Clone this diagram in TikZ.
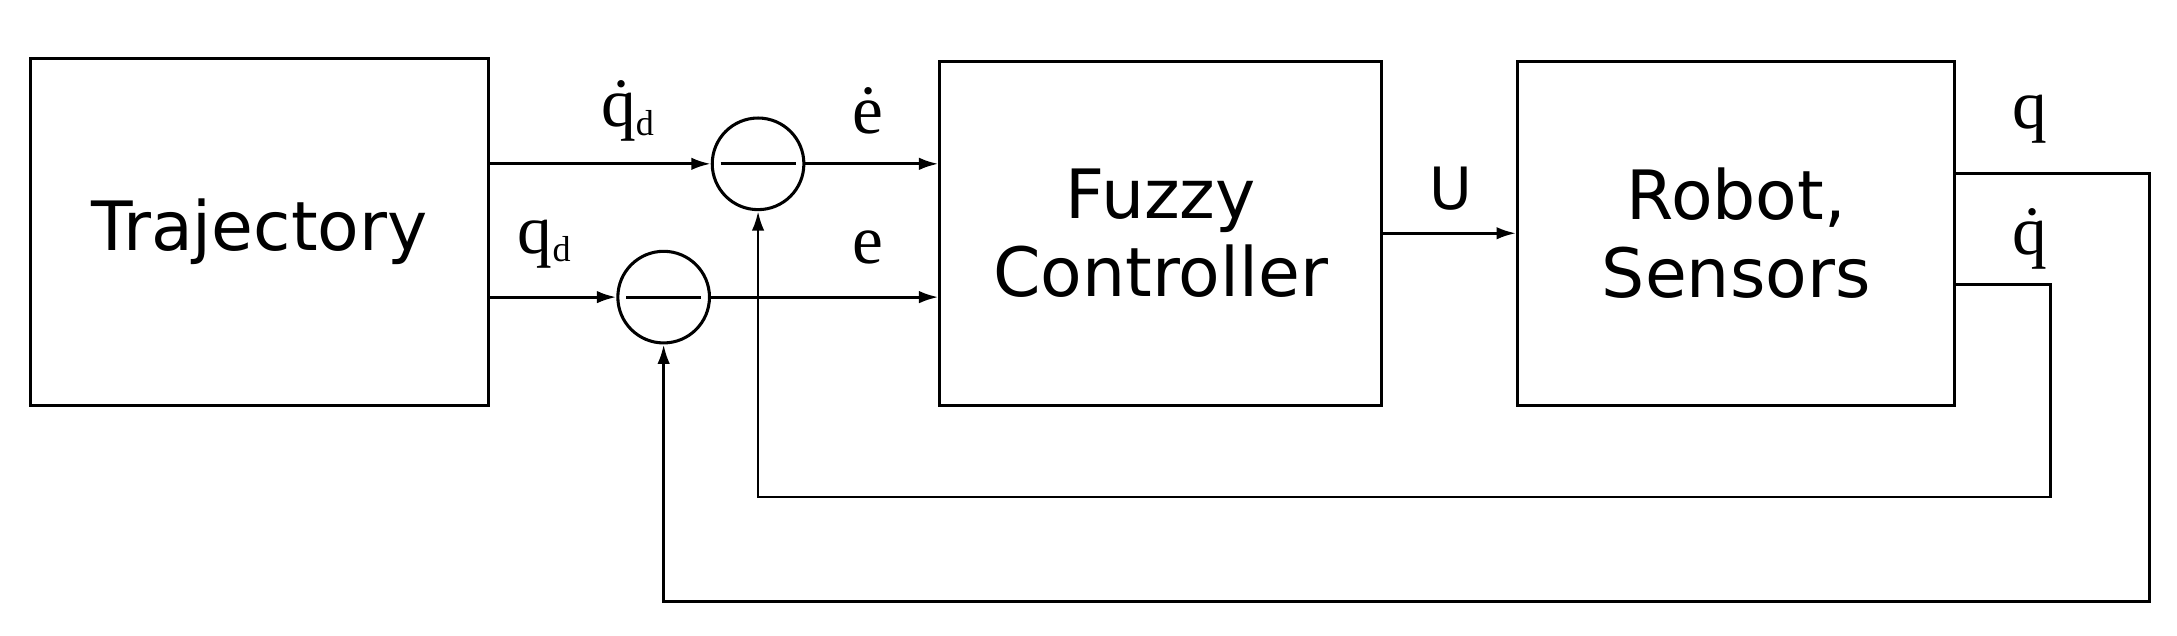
\documentclass[tikz,border=0pt]{standalone}
\usepackage{fontspec}
\setmainfont{DejaVu Sans}
\newfontfamily\serf{Liberation Serif}
\usetikzlibrary{arrows.meta}
\newcommand{\sbd}{\raisebox{-6pt}{\fontsize{26}{28}\selectfont d}}
\begin{document}
\begin{tikzpicture}[x=1pt,y=-1pt,
  blk/.style={draw,line width=2.2pt,inner sep=0pt,font=\fontsize{49}{56}\selectfont,align=center},
  sum/.style={draw,circle,line width=2.2pt,minimum size=66pt,inner sep=0pt},
  arr/.style={line width=2pt,-{Latex[length=14pt,width=9pt]}},
  ln/.style={line width=2pt},
  lab/.style={font=\serf\fontsize{50}{54}\selectfont}]
\useasboundingbox (0,0) rectangle (1568,458);
\node[blk,minimum width=330pt,minimum height=250pt] (tr) at (187,167) {Trajectory};
\node[blk,minimum width=318pt,minimum height=248pt] (fc) at (836,168) {Fuzzy\\Controller};
\node[blk,minimum width=315pt,minimum height=248pt] (rb) at (1250.5,168) {Robot,\\Sensors};
\node[sum] (s1) at (546,118) {};
\node[sum] (s2) at (478,214) {};
\draw[ln] ([xshift=-27pt]s1.center) -- ([xshift=27pt]s1.center);
\draw[ln] ([xshift=-27pt]s2.center) -- ([xshift=27pt]s2.center);
\draw[arr] (tr.east|-s1.west) -- (s1.west);
\draw[arr] (tr.east|-s2.west) -- (s2.west);
\draw[arr] (s1.east) -- (s1.east-|fc.west);
\draw[arr] (s2.east) -- (s2.east-|fc.west);
\draw[arr] (fc.east|-0,168) -- (rb.west|-0,168);
\coordinate (a1) at (1548,125);
\coordinate (a2) at (1548,433);
\coordinate (b1) at (1477,205);
\coordinate (b2) at (1477,358);
\draw[arr] (rb.east|-a1) -- (a1) -- (a2) -- (a2-|s2.south) -- (s2.south);
\draw[arr] (rb.east|-b1) -- (b1) -- (b2) -- (b2-|s1.south) -- (s1.south);
\node[lab] (l1) at (452,80) {\.{q}\sbd};
\node[lab] (l2) at (392,176) {q\sbd};
\node[lab] (l3) at (625,80) {\.{e}};
\node[lab] (l4) at (625,178) {e};
\node[font=\fontsize{42}{48}\selectfont] (l5) at (1045,136) {U};
\node[lab] (l6) at (1462,86) {q};
\node[lab] (l7) at (1462,172) {\.{q}};
\end{tikzpicture}
\end{document}
